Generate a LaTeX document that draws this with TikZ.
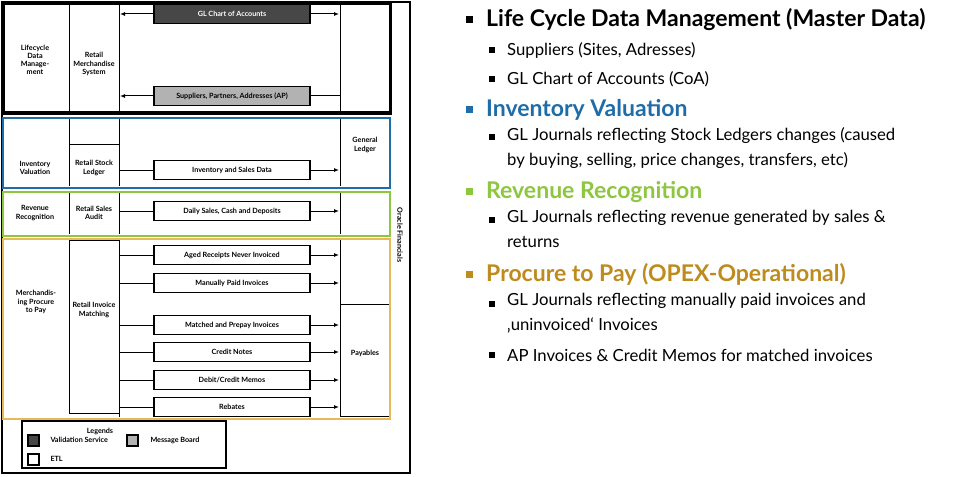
\documentclass[tikz,border=0pt]{standalone}
\usepackage{fontspec}
\setmainfont{Lato}
\usetikzlibrary{arrows.meta}
\definecolor{cblue}{HTML}{1F6DA8}
\definecolor{cgreen}{HTML}{8DC63F}
\definecolor{cgold}{HTML}{BE8C1E}
\definecolor{corange}{HTML}{E8B85A}
\tikzset{
 lbl/.style={font=\bfseries\fontsize{7.2}{8.2}\selectfont,align=center,text=black},
 etl/.style={draw,line width=1.2pt,fill=white,minimum width=156pt,minimum height=19pt,lbl,inner sep=0pt},
 arr/.style={line width=1pt,-{Latex[length=5pt,width=4pt]}},
 ln/.style={line width=1pt},
 bul/.style={anchor=west,font=\fontsize{23}{25}\selectfont\bfseries,inner sep=0pt},
 sub/.style={anchor=west,font=\fontsize{16.7}{25}\selectfont,align=left,inner sep=0pt},
}
\begin{document}
\begin{tikzpicture}[x=1pt,y=-1pt]
\useasboundingbox (0,0) rectangle (973,476);
\fill[white] (0,0) rectangle (973,476);
% outer frame
\draw[line width=1.2pt] (2,2) rectangle (410,473);
\node[rotate=-90,lbl] (of) at (400,235) {Oracle Financials};
% column lines
\draw[ln] (69,4) -- (69,112) (119,4) -- (119,112) (340,4) -- (340,112);
\draw[ln] (69,119) -- (69,186) (119,119) -- (119,186) (340,119) -- (340,186) (69,144) -- (119,144);
\draw[ln] (69,193) -- (69,234) (119,193) -- (119,234) (340,193) -- (340,234);
\draw[ln] (119,240) -- (119,417) (340,240) -- (340,304);
\draw[ln] (69,240) rectangle (119,413);
\draw[ln] (340,304) rectangle (390,416);
% section frames
\draw[line width=3pt] (3,4) rectangle (390,113);
\draw[cblue,line width=2.5pt] (3,118) rectangle (390,188);
\draw[cgreen,line width=2.5pt] (3,192) rectangle (390,236);
\draw[corange,line width=2.5pt] (3,239) rectangle (390,419);
% labels
\node[lbl] (l1) at (35,60) {Lifecycle\\Data\\Manage-\\ment};
\node[lbl] (s1) at (94,64) {Retail\\Merchandise\\System};
\node[lbl] (l2) at (35,168) {Inventory\\Valuation};
\node[lbl] (s2) at (94,168) {Retail Stock\\Ledger};
\node[lbl] (l3) at (35,213) {Revenue\\Recognition};
\node[lbl] (s3) at (94,213) {Retail Sales\\Audit};
\node[lbl] (l4) at (36,302) {Merchandis-\\ing Procure\\to Pay};
\node[lbl] (s4) at (94,310) {Retail Invoice\\Matching};
\node[lbl] (gl) at (365,145) {General\\Ledger};
\node[lbl] (pay) at (365,353) {Payables};
% boxes
\node[etl,fill=black!72,text=white] (coa) at (232,14) {GL Chart of Accounts};
\node[etl,fill=black!30] (sup) at (232,96) {Suppliers, Partners, Addresses (AP)};
\node[etl] (inv) at (232,170) {Inventory and Sales Data};
\node[etl] (day) at (232,211) {Daily Sales, Cash and Deposits};
\node[etl] (b1) at (232,255) {Aged Receipts Never Invoiced};
\node[etl] (b2) at (232,283) {Manually Paid Invoices};
\node[etl] (b3) at (232,325) {Matched and Prepay Invoices};
\node[etl] (b4) at (232,352) {Credit Notes};
\node[etl] (b5) at (232,380) {Debit/Credit Memos};
\node[etl] (b6) at (232,407) {Rebates};
\coordinate (cl1) at (120,14); \coordinate (cr1) at (339,14);
\draw[arr] (coa.west) -- (cl1); \draw[arr] (coa.east) -- (cr1);
\coordinate (cl2) at (120,96); \coordinate (cr2) at (340,96);
\draw[arr] (sup.west) -- (cl2); \draw[ln] (sup.east) -- (cr2);
\foreach \b in {inv,day,b1,b2,b3,b4,b5,b6}{
  \draw[ln] (\b.west) -- (\b.west -| 119,0);
  \draw[arr] (\b.east) -- (\b.east -| 339,0);
}
% legend
\draw[line width=1.2pt] (22,421) rectangle (226,468);
\node[lbl] (lg) at (100,431) {Legends};
\draw[line width=1.2pt,fill=black!72] (28,435) rectangle (39,446);
\node[lbl,anchor=west] (lv) at (47,440) {Validation Service};
\draw[line width=1.2pt,fill=black!30] (127,435) rectangle (138,446);
\node[lbl,anchor=west] (lm) at (147,440) {Message Board};
\draw[line width=1.2pt] (28,454) rectangle (39,465);
\node[lbl,anchor=west] (le) at (47,459) {ETL};
% right text
\fill (466,16) rectangle (473,23); \node[bul] (t1) at (486,20) {Life Cycle Data Management (Master Data)};
\fill (489,47) rectangle (495,53); \node[sub] (t2) at (507,50) {Suppliers (Sites, Adresses)};
\fill (489,76) rectangle (495,82); \node[sub] (t3) at (507,79) {GL Chart of Accounts (CoA)};
\fill[cblue] (466,106) rectangle (473,113); \node[bul,text=cblue] (t4) at (486,110) {Inventory Valuation};
\fill (489,134) rectangle (495,140); \node[sub,anchor=north west] (t5) at (507,127) {GL Journals reflecting Stock Ledgers changes (caused\\by buying, selling, price changes, transfers, etc)};
\fill[cgreen] (466,188) rectangle (473,195); \node[bul,text=cgreen] (t6) at (486,192) {Revenue Recognition};
\fill (489,217) rectangle (495,223); \node[sub,anchor=north west] (t7) at (507,210) {GL Journals reflecting revenue generated by sales \&\\returns};
\fill[cgold] (466,271) rectangle (473,278); \node[bul,text=cgold] (t8) at (486,274) {Procure to Pay (OPEX-Operational)};
\fill (489,301) rectangle (495,307); \node[sub,anchor=north west] (t9) at (507,293) {GL Journals reflecting manually paid invoices and\\‚uninvoiced‘ Invoices};
\fill (489,352) rectangle (495,358); \node[sub] (t10) at (507,355) {AP Invoices \& Credit Memos for matched invoices};
\end{tikzpicture}
\end{document}
